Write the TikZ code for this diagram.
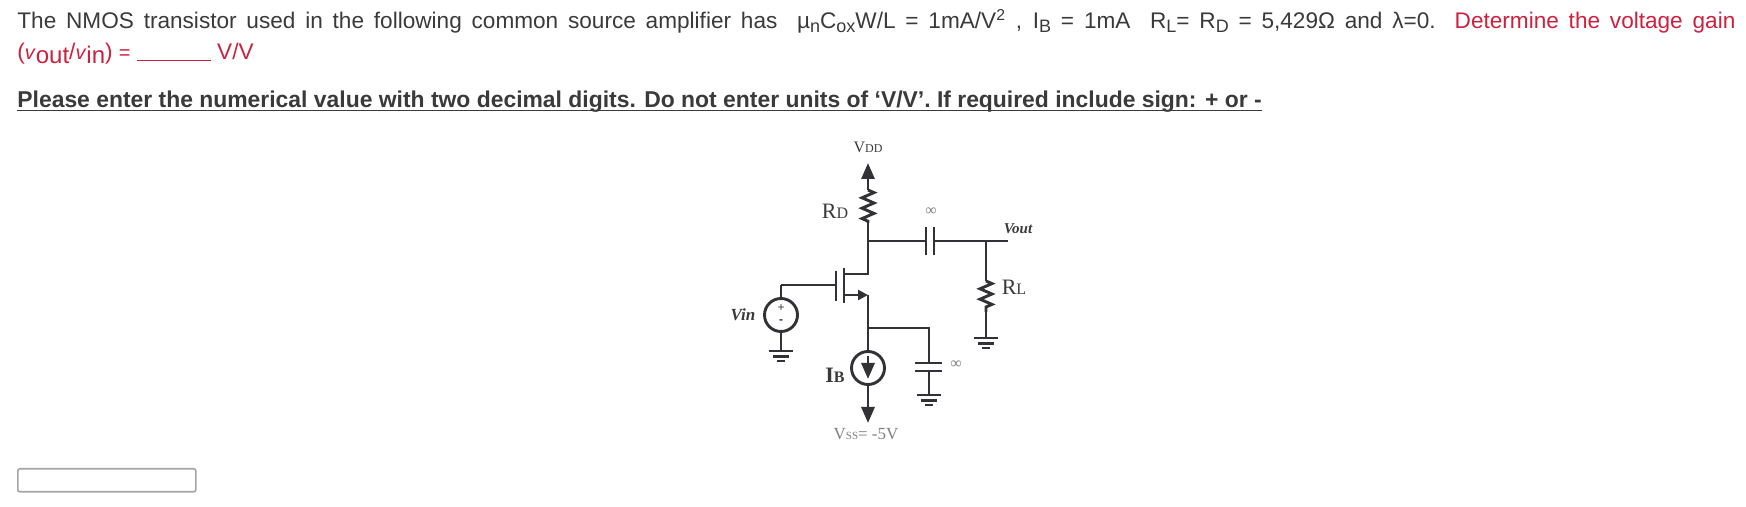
\documentclass[tikz,border=0pt]{standalone}
\usepackage{fontspec}
\setmainfont{Liberation Sans}
\newfontfamily\labelfont{Liberation Serif}
\usetikzlibrary{arrows.meta,decorations.pathmorphing}
\definecolor{inkgray}{RGB}{58,58,58}
\definecolor{wiregray}{RGB}{50,50,54}
\definecolor{gainred}{RGB}{205,32,62}
\definecolor{boxgray}{RGB}{165,165,165}
\newcommand{\lowsub}[1]{\raisebox{-0.35ex}{\small #1}}
\newcommand{\ratiosub}[1]{{\fontsize{10pt}{10pt}\selectfont\textit{v}}\raisebox{-0.35ex}{\fontsize{12pt}{12pt}\selectfont #1}}
\tikzset{
  ground sign/.pic={
    \draw[wire] (-12,0) -- (12,0);
    \draw[wire] (-8,5.5) -- (8,5.5);
    \draw[wire] (-4,10) -- (4,10);
  }
}
\begin{document}
\begin{tikzpicture}[x=0.5pt,y=-0.5pt]
\tikzstyle{wire} = [draw=wiregray, line width=1.45pt]
\tikzstyle{feed} = [wire, -{Triangle[length=8pt,width=6.5pt]}]
\tikzstyle{zigres} = [wire, decorate, decoration={zigzag,segment length=5.2pt,amplitude=3pt}]
\tikzstyle{source} = [circle, draw=wiregray, line width=1.45pt, minimum size=16.5pt, inner sep=0pt]
\tikzstyle{cirlabel} = [font=\labelfont, text=inkgray, inner sep=0pt]
\tikzstyle{capmark} = [font=\labelfont\footnotesize, text=gray, inner sep=0pt]
\useasboundingbox (0,0) rectangle (1746,507);
% question text
\node[anchor=north west, inner sep=0pt, text width=859pt, align=justify, text=inkgray, font=\fontsize{11.3pt}{15.5pt}\selectfont] (question) at (17,9)
  {The NMOS transistor used in the following common source amplifier has \ \textmu\lowsub{n}C\lowsub{ox}W/L = 1mA/V\textsuperscript{2} , I\lowsub{B} = 1mA \ R\lowsub{L}= R\lowsub{D} = 5,429Ω and λ=0. \textcolor{gainred}{Determine the voltage gain}\linebreak
  \textcolor{gainred}{(\ratiosub{out}/\ratiosub{in})\ {\fontsize{10pt}{10pt}\selectfont =}\ \rule[-1pt]{37pt}{0.6pt}\ V/V}};
\node[anchor=base west, inner sep=0pt, text=inkgray, font=\bfseries\fontsize{11.45pt}{15.5pt}\selectfont] (notice) at (17,108)
  {\underline{\smash{Please enter the numerical value with two decimal digits. Do not enter units of ‘V/V’. If required include sign: + or -}}};
\node[anchor=north west, draw=boxgray, rounded corners=1pt, line width=0.8pt, minimum width=89pt, minimum height=11.5pt, inner sep=0pt] (answer) at (17,468) {};
% supply, drain and load
\coordinate (vddtip) at (868,163);
\coordinate (rdtop) at (868,190);
\coordinate (rdbot) at (868,223);
\coordinate (dnode) at (868,241);
\coordinate (dcorner) at (868,274);
\coordinate (dplate) at (844,274);
\coordinate (capoutl) at (926,241);
\coordinate (capoutr) at (934,241);
\coordinate (outend) at (1008,241);
\coordinate (outnode) at (986,241);
\coordinate (rltop) at (986,281);
\coordinate (rlbot) at (986,312);
\coordinate (rlgnd) at (986,338);
\draw[feed] (rdtop) -- (vddtip);
\draw[zigres] (rdtop) -- (rdbot);
\draw[wire] (rdbot) -- (dnode) -- (dcorner) -- (dplate);
\draw[wire] (dnode) -- (capoutl);
\draw[wire] (capoutr) -- (outend);
\draw[wire] (926,227) -- (926,255);
\draw[wire] (934,227) -- (934,255);
\draw[wire] (outnode) -- (rltop);
\draw[zigres] (rltop) -- (rlbot);
\draw[wire] (rlbot) -- (rlgnd);
\pic at (rlgnd) {ground sign};
% transistor and input
\coordinate (gwire) at (836,285);
\coordinate (gcorner) at (781,285);
\coordinate (splate) at (844,295);
\coordinate (scorner) at (868,295);
\coordinate (snode) at (868,328);
\coordinate (ccorner) at (929,328);
\coordinate (captop) at (929,363);
\coordinate (capbot) at (929,371);
\coordinate (cgnd) at (929,395);
\coordinate (vingnd) at (781,351);
\coordinate (vsstip) at (868,423);
\draw[wire] (836,271) -- (836,301);
\draw[wire] (844,268) -- (844,303);
\draw[wire] (gwire) -- (gcorner);
\node[source] (vinsrc) at (781,315) {};
\draw[wire] (gcorner) -- (vinsrc);
\draw[wire] (vinsrc) -- (vingnd);
\pic at (vingnd) {ground sign};
\node[font=\fontsize{6pt}{6pt}\selectfont, text=inkgray, inner sep=0pt] (vinplus) at (781,308) {+};
\node[font=\fontsize{6pt}{6pt}\selectfont\bfseries, text=inkgray, inner sep=0pt] (vinminus) at (781,322) {-};
\draw[wire, -{Triangle[length=5pt,width=5pt]}] (splate) -- (scorner);
\draw[wire] (scorner) -- (snode);
\node[source] (ibsrc) at (868,368) {};
\draw[wire] (snode) -- (ibsrc);
\draw[feed] (868,356) -- (868,379);
\draw[feed] (ibsrc) -- (vsstip);
\draw[wire] (snode) -- (ccorner) -- (captop);
\draw[wire] (915,363) -- (942,363);
\draw[wire] (915,371) -- (942,371);
\draw[wire] (capbot) -- (cgnd);
\pic at (cgnd) {ground sign};
% labels
\node[cirlabel, font=\labelfont\fontsize{8pt}{8pt}\selectfont] (vddlabel) at (868,147) {V\kern0pt{\fontsize{6pt}{6pt}\selectfont DD}};
\node[cirlabel, font=\labelfont\fontsize{11pt}{11pt}\selectfont] (rdlabel) at (835,211) {R{\fontsize{8pt}{8pt}\selectfont D}};
\node[cirlabel, font=\labelfont\fontsize{11pt}{11pt}\selectfont] (rllabel) at (1014,287) {R{\fontsize{8pt}{8pt}\selectfont L}};
\node[cirlabel, font=\labelfont\bfseries\itshape\fontsize{7.5pt}{8pt}\selectfont] (voutlabel) at (1018,229) {Vout};
\node[cirlabel, font=\labelfont\bfseries\itshape\fontsize{8.5pt}{8.5pt}\selectfont] (vinlabel) at (743,315) {Vin};
\node[cirlabel, font=\labelfont\bfseries\fontsize{11pt}{11pt}\selectfont] (iblabel) at (835,375) {I{\fontsize{8pt}{8pt}\selectfont B}};
\node[capmark] (capoutmark) at (931,212) {∞};
\node[capmark] (capsrcmark) at (956,365) {∞};
\node[cirlabel, text=gray, font=\labelfont\fontsize{8.5pt}{8.5pt}\selectfont] (vsslabel) at (866,434) {V{\fontsize{5.5pt}{5.5pt}\selectfont SS}= -5V};
\end{tikzpicture}
\end{document}
